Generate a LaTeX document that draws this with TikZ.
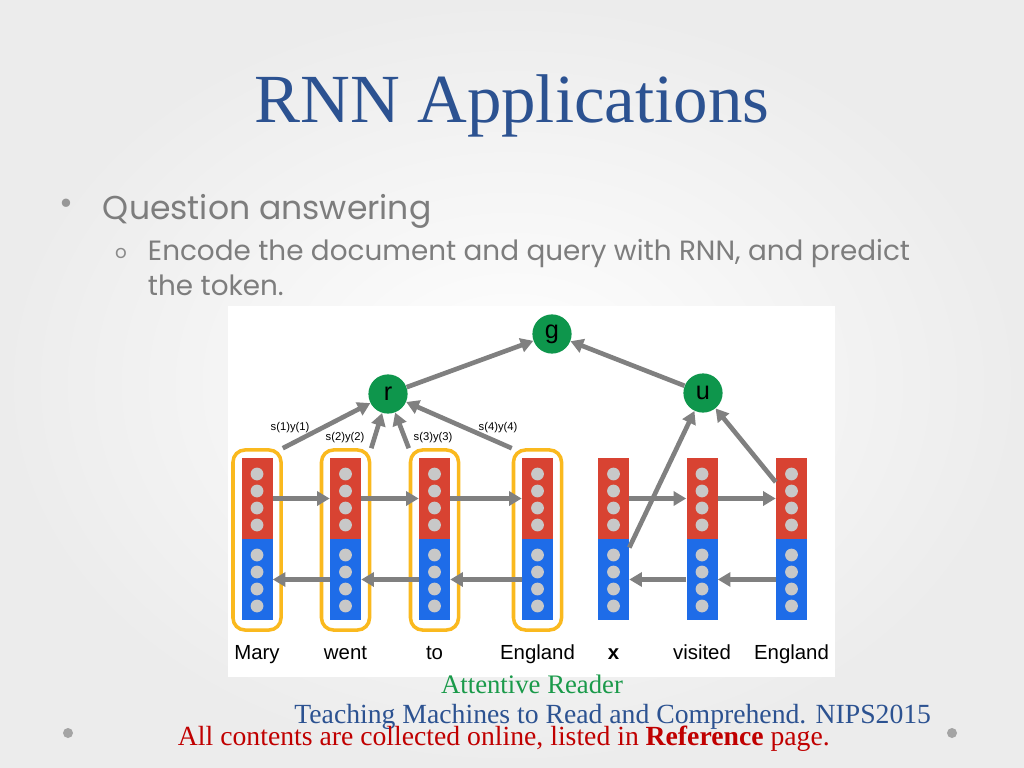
\documentclass[tikz,border=0pt]{standalone}
\usepackage{fontspec}
\setmainfont{Liberation Serif}
\setsansfont{Liberation Sans}
\newfontfamily\slidefont{Poppins}
\usepackage{xcolor}
\usetikzlibrary{positioning}
\usetikzlibrary{arrows.meta}
\definecolor{titleblue}{RGB}{44,82,145}
\definecolor{bulletgray}{RGB}{125,125,125}
\definecolor{slidegray}{RGB}{236,236,236}
\definecolor{nodegreen}{RGB}{14,150,76}
\definecolor{fwdred}{RGB}{216,67,50}
\definecolor{bwdblue}{RGB}{30,108,232}
\definecolor{dotgray}{RGB}{200,200,200}
\definecolor{boxorange}{RGB}{250,185,30}
\definecolor{arrowgray}{RGB}{128,128,128}
\definecolor{footgreen}{RGB}{26,154,74}
\definecolor{footred}{RGB}{192,0,0}
\tikzstyle{hid}=[circle, fill=nodegreen, minimum size=0.98cm, inner sep=0pt, font=\sffamily\fontsize{18}{20}\selectfont]
\tikzstyle{fhalf}=[rectangle, fill=fwdred, minimum width=0.775cm, minimum height=2.02cm, inner sep=0pt]
\tikzstyle{bhalf}=[rectangle, fill=bwdblue, minimum width=0.775cm, minimum height=2.02cm, inner sep=0pt]
\tikzstyle{unit}=[circle, fill=dotgray, minimum size=0.32cm, inner sep=0pt]
\tikzstyle{attn}=[draw=boxorange, line width=2.5pt, rounded corners=0.3cm, minimum width=1.2cm, minimum height=4.5cm]
\tikzstyle{link}=[-{Triangle[length=9pt, width=10pt]}, draw=arrowgray, line width=3.3pt]
\tikzstyle{word}=[font=\sffamily\fontsize{14.5}{16}\selectfont, anchor=base]
\tikzstyle{weight}=[font=\sffamily\fontsize{8}{10}\selectfont]

\begin{document}
\begin{tikzpicture}[x=0.025cm, y=-0.025cm]
  \useasboundingbox (0,0) rectangle (1024,768);
  \shade[inner color=white, outer color=slidegray] (0,0) rectangle (1024,768);
  \fill[white] (228,306) rectangle (835,677);

  % slide text
  \node[text=titleblue, font=\fontsize{49}{56}\selectfont] (title) at (512,106) {RNN Applications};
  \node[text=bulletgray!80, font=\slidefont\fontsize{24}{26}\selectfont] (dot1) at (66,207) {\textbullet};
  \node[text=bulletgray, font=\slidefont\fontsize{23.5}{26}\selectfont, anchor=base west] (item1) at (98,219) {Question answering};
  \node[text=bulletgray!90, font=\slidefont\fontsize{13}{16}\selectfont, anchor=base] (dot2) at (121,258) {o};
  \node[text=bulletgray, font=\slidefont\fontsize{19.8}{22}\selectfont, anchor=base west] (item2) at (143,260) {Encode the document and query with RNN, and predict};
  \node[text=bulletgray, font=\slidefont\fontsize{19.8}{22}\selectfont, anchor=base west] (item3) at (143,295) {the token.};

  % columns of the bidirectional RNN
  \foreach \nm/\xx/\txt in {mary/257/Mary, went/345.5/went, to/434.5/to, engd/537.5/England,
                            x/613.5/\textbf{x}, visited/702/visited, engq/791.5/England} {
    \node[fhalf] (\nm-f) at (\xx,498.5) {};
    \node[bhalf] (\nm-b) at (\xx,579.5) {};
    \foreach \yy [count=\i] in {474,491,508,525,555,572,589,606}
      \node[unit] (\nm-u\i) at (\xx,\yy) {};
    \node[word] (\nm-w) at (\xx,659) {\txt};
  }
  \foreach \nm/\xx in {mary/257, went/345.5, to/434.5, engd/537.5}
    \node[attn] (\nm-a) at (\xx,540) {};

  \draw[link] (mary-f.east) -- (went-f.west);
  \draw[link] (went-f.east) -- (to-f.west);
  \draw[link] (to-f.east) -- (engd-f.west);
  \draw[link] (engd-b.west) -- (to-b.east);
  \draw[link] (to-b.west) -- (went-b.east);
  \draw[link] (went-b.west) -- (mary-b.east);
  \draw[link] (x-f.east) -- (visited-f.west);
  \draw[link] (visited-f.east) -- (engq-f.west);
  \draw[link] (engq-b.west) -- (visited-b.east);
  \draw[link] (visited-b.west) -- (x-b.east);

  % attention and output
  \node[hid] (g) at (552,334) {g};
  \node[hid] (r) at (388,394) {r};
  \node[hid] (u) at (703,393) {u};

  \draw[link] (mary-a.north east) -- (r);
  \draw[link] (went-a.north east) -- (r);
  \draw[link] (to-a.north west) -- (r);
  \draw[link] (engd-a.north west) -- (r);
  \draw[link] ([yshift=-0.22cm]x-b.north east) -- (u);
  \draw[link] ([yshift=0.41cm]engq-f.west) -- (u);
  \draw[link] (r) -- (g);
  \draw[link] (u) -- (g);

  \node[weight] (w1) at (290,428) {s(1)y(1)};
  \node[weight] (w2) at (345,438) {s(2)y(2)};
  \node[weight] (w3) at (433,438) {s(3)y(3)};
  \node[weight] (w4) at (498,428) {s(4)y(4)};

  % footer
  \node[text=footgreen, font=\fontsize{19}{22}\selectfont, anchor=base] (cap) at (532,693) {Attentive Reader};
  \node[text=titleblue, font=\fontsize{19.7}{22}\selectfont, anchor=base east] (ref) at (936,723) {Teaching Machines to Read and Comprehend. NIPS2015};
  \node[text=footred, font=\fontsize{19.7}{22}\selectfont, anchor=base west] (note) at (173,745) {All contents are collected online, listed in \textbf{Reference} page.};
  \fill[bulletgray!70] (68,733) circle (5);
  \fill[bulletgray!70] (952,733) circle (5);
\end{tikzpicture}
\end{document}
